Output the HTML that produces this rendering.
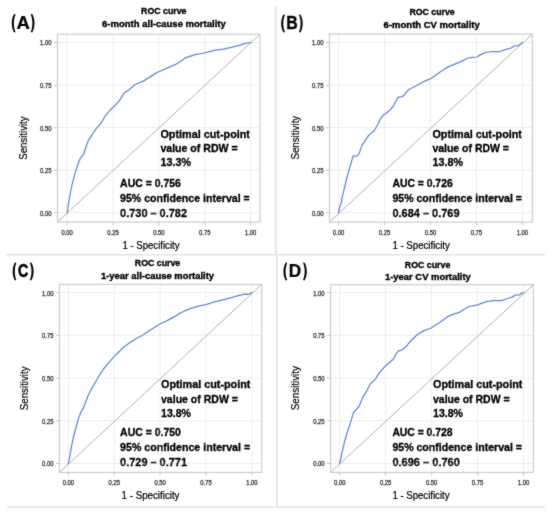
<!DOCTYPE html>
<html><head><meta charset="utf-8"><title>ROC curves</title>
<style>
html,body{margin:0;padding:0;background:#fff;}
body{width:550px;height:514px;overflow:hidden;}
svg{display:block;font-family:"Liberation Sans",sans-serif;}
</style></head><body>
<svg width="550" height="514" viewBox="0 0 550 514">
<defs><filter id="soft" filterUnits="userSpaceOnUse" x="0" y="0" width="550" height="514"><feConvolveMatrix order="3" kernelMatrix="1 2 1 2 22 2 1 2 1" divisor="34" edgeMode="none"/></filter></defs>
<rect x="0" y="0" width="550" height="514" fill="#fff"/>
<g filter="url(#soft)">
<line x1="275.8" y1="6.5" x2="275.8" y2="254.8" stroke="#e4e4e4" stroke-width="1.8"/>
<line x1="276.8" y1="254.8" x2="276.8" y2="507" stroke="#e4e4e4" stroke-width="1.8"/>
<line x1="6.5" y1="254.8" x2="545" y2="254.8" stroke="#e4e4e4" stroke-width="1.6"/>
<line x1="7" y1="507" x2="545" y2="507" stroke="#e4e4e4" stroke-width="1.6"/>
<line x1="67.1" y1="34.2" x2="67.1" y2="222" stroke="#ebebeb" stroke-width="0.9"/>
<line x1="57.5" y1="212.75" x2="260" y2="212.75" stroke="#ebebeb" stroke-width="0.9"/>
<line x1="112.97" y1="34.2" x2="112.97" y2="222" stroke="#ebebeb" stroke-width="0.9"/>
<line x1="57.5" y1="170.19" x2="260" y2="170.19" stroke="#ebebeb" stroke-width="0.9"/>
<line x1="158.85" y1="34.2" x2="158.85" y2="222" stroke="#ebebeb" stroke-width="0.9"/>
<line x1="57.5" y1="127.62" x2="260" y2="127.62" stroke="#ebebeb" stroke-width="0.9"/>
<line x1="204.72" y1="34.2" x2="204.72" y2="222" stroke="#ebebeb" stroke-width="0.9"/>
<line x1="57.5" y1="85.06" x2="260" y2="85.06" stroke="#ebebeb" stroke-width="0.9"/>
<line x1="250.6" y1="34.2" x2="250.6" y2="222" stroke="#ebebeb" stroke-width="0.9"/>
<line x1="57.5" y1="42.5" x2="260" y2="42.5" stroke="#ebebeb" stroke-width="0.9"/>
<line x1="57.5" y1="222" x2="260" y2="34.2" stroke="#9a9a9a" stroke-width="0.8"/>
<polyline points="67.1,212.75 68.5,203.3 69.9,195.4 71.9,185.5 74.9,173.6 77.8,164.6 80.4,158.1 83.4,154.7 86.4,145.8 88.7,139.8 92.7,133.9 96.7,127.9 99.7,125 103,120 105.1,116.2 110.1,110.2 119.1,101.1 124.1,93.1 129.1,89.7 135.2,84.5 143.2,81.1 151.2,76.1 157,72.5 167,68.1 177,63.7 186.1,57.6 195.1,54.6 204.1,53 213.1,50.6 223.1,49.2 231.1,47.4 239.2,45.4 245.2,43.4 250.6,42.5" fill="none" stroke="#5d86d2" stroke-width="1.25" stroke-linejoin="round" stroke-linecap="round"/>
<rect x="57.5" y="34.2" width="202.5" height="187.8" fill="none" stroke="#cdcdcd" stroke-width="1.2"/>
<line x1="67.1" y1="222" x2="67.1" y2="225" stroke="#bcbcbc" stroke-width="0.9"/>
<line x1="54" y1="212.75" x2="57.5" y2="212.75" stroke="#bcbcbc" stroke-width="0.9"/>
<text x="67.1" y="235" text-anchor="middle" font-size="6.5" fill="#2b2b2b" stroke="#2b2b2b" stroke-width="0.25" textLength="11.4" lengthAdjust="spacingAndGlyphs">0.00</text>
<text x="51.5" y="215.65" text-anchor="end" font-size="6.5" fill="#2b2b2b" stroke="#2b2b2b" stroke-width="0.25" textLength="11.4" lengthAdjust="spacingAndGlyphs">0.00</text>
<line x1="112.97" y1="222" x2="112.97" y2="225" stroke="#bcbcbc" stroke-width="0.9"/>
<line x1="54" y1="170.19" x2="57.5" y2="170.19" stroke="#bcbcbc" stroke-width="0.9"/>
<text x="112.97" y="235" text-anchor="middle" font-size="6.5" fill="#2b2b2b" stroke="#2b2b2b" stroke-width="0.25" textLength="11.4" lengthAdjust="spacingAndGlyphs">0.25</text>
<text x="51.5" y="173.09" text-anchor="end" font-size="6.5" fill="#2b2b2b" stroke="#2b2b2b" stroke-width="0.25" textLength="11.4" lengthAdjust="spacingAndGlyphs">0.25</text>
<line x1="158.85" y1="222" x2="158.85" y2="225" stroke="#bcbcbc" stroke-width="0.9"/>
<line x1="54" y1="127.62" x2="57.5" y2="127.62" stroke="#bcbcbc" stroke-width="0.9"/>
<text x="158.85" y="235" text-anchor="middle" font-size="6.5" fill="#2b2b2b" stroke="#2b2b2b" stroke-width="0.25" textLength="11.4" lengthAdjust="spacingAndGlyphs">0.50</text>
<text x="51.5" y="130.53" text-anchor="end" font-size="6.5" fill="#2b2b2b" stroke="#2b2b2b" stroke-width="0.25" textLength="11.4" lengthAdjust="spacingAndGlyphs">0.50</text>
<line x1="204.72" y1="222" x2="204.72" y2="225" stroke="#bcbcbc" stroke-width="0.9"/>
<line x1="54" y1="85.06" x2="57.5" y2="85.06" stroke="#bcbcbc" stroke-width="0.9"/>
<text x="204.72" y="235" text-anchor="middle" font-size="6.5" fill="#2b2b2b" stroke="#2b2b2b" stroke-width="0.25" textLength="11.4" lengthAdjust="spacingAndGlyphs">0.75</text>
<text x="51.5" y="87.96" text-anchor="end" font-size="6.5" fill="#2b2b2b" stroke="#2b2b2b" stroke-width="0.25" textLength="11.4" lengthAdjust="spacingAndGlyphs">0.75</text>
<line x1="250.6" y1="222" x2="250.6" y2="225" stroke="#bcbcbc" stroke-width="0.9"/>
<line x1="54" y1="42.5" x2="57.5" y2="42.5" stroke="#bcbcbc" stroke-width="0.9"/>
<text x="250.6" y="235" text-anchor="middle" font-size="6.5" fill="#2b2b2b" stroke="#2b2b2b" stroke-width="0.25" textLength="11.4" lengthAdjust="spacingAndGlyphs">1.00</text>
<text x="51.5" y="45.4" text-anchor="end" font-size="6.5" fill="#2b2b2b" stroke="#2b2b2b" stroke-width="0.25" textLength="11.4" lengthAdjust="spacingAndGlyphs">1.00</text>
<line x1="338.5" y1="34" x2="338.5" y2="222.1" stroke="#ebebeb" stroke-width="0.9"/>
<line x1="329.5" y1="212.75" x2="532.3" y2="212.75" stroke="#ebebeb" stroke-width="0.9"/>
<line x1="384.48" y1="34" x2="384.48" y2="222.1" stroke="#ebebeb" stroke-width="0.9"/>
<line x1="329.5" y1="170.19" x2="532.3" y2="170.19" stroke="#ebebeb" stroke-width="0.9"/>
<line x1="430.45" y1="34" x2="430.45" y2="222.1" stroke="#ebebeb" stroke-width="0.9"/>
<line x1="329.5" y1="127.62" x2="532.3" y2="127.62" stroke="#ebebeb" stroke-width="0.9"/>
<line x1="476.42" y1="34" x2="476.42" y2="222.1" stroke="#ebebeb" stroke-width="0.9"/>
<line x1="329.5" y1="85.06" x2="532.3" y2="85.06" stroke="#ebebeb" stroke-width="0.9"/>
<line x1="522.4" y1="34" x2="522.4" y2="222.1" stroke="#ebebeb" stroke-width="0.9"/>
<line x1="329.5" y1="42.5" x2="532.3" y2="42.5" stroke="#ebebeb" stroke-width="0.9"/>
<line x1="329.5" y1="222.1" x2="532.3" y2="34" stroke="#9a9a9a" stroke-width="0.8"/>
<polyline points="338.5,212.75 339.9,205.9 341,203.7 342.5,196.1 343.8,190.6 345.3,184.1 347.5,175.4 349.7,167.7 351.9,160.1 353,156.2 356.9,156.2 359.1,153.6 361.7,145.9 366,139.4 369.3,134.4 373.7,131.4 378,124.2 380,119.4 383.3,115.2 386.7,112.7 390,110.2 393.4,106 395.9,101 398.1,97.3 400.9,96.8 403.4,95.9 405.9,92.6 409.3,89.2 415.1,86.2 423.5,81.7 430.2,78.9 435.2,75.5 441.9,70.8 448.6,66.6 453.6,64.6 460.8,61.6 468.1,58 472.5,57.3 476.8,57 481.2,54.4 485.5,52.5 492.8,51.5 500.1,51.5 505.9,49.3 511,48 514.6,45.9 518.3,45.6 521.2,43.5 522.4,42.5" fill="none" stroke="#5d86d2" stroke-width="1.25" stroke-linejoin="round" stroke-linecap="round"/>
<rect x="329.5" y="34" width="202.8" height="188.1" fill="none" stroke="#cdcdcd" stroke-width="1.2"/>
<line x1="338.5" y1="222.1" x2="338.5" y2="225.1" stroke="#bcbcbc" stroke-width="0.9"/>
<line x1="326" y1="212.75" x2="329.5" y2="212.75" stroke="#bcbcbc" stroke-width="0.9"/>
<text x="338.5" y="235.1" text-anchor="middle" font-size="6.5" fill="#2b2b2b" stroke="#2b2b2b" stroke-width="0.25" textLength="11.4" lengthAdjust="spacingAndGlyphs">0.00</text>
<text x="323.5" y="215.65" text-anchor="end" font-size="6.5" fill="#2b2b2b" stroke="#2b2b2b" stroke-width="0.25" textLength="11.4" lengthAdjust="spacingAndGlyphs">0.00</text>
<line x1="384.48" y1="222.1" x2="384.48" y2="225.1" stroke="#bcbcbc" stroke-width="0.9"/>
<line x1="326" y1="170.19" x2="329.5" y2="170.19" stroke="#bcbcbc" stroke-width="0.9"/>
<text x="384.48" y="235.1" text-anchor="middle" font-size="6.5" fill="#2b2b2b" stroke="#2b2b2b" stroke-width="0.25" textLength="11.4" lengthAdjust="spacingAndGlyphs">0.25</text>
<text x="323.5" y="173.09" text-anchor="end" font-size="6.5" fill="#2b2b2b" stroke="#2b2b2b" stroke-width="0.25" textLength="11.4" lengthAdjust="spacingAndGlyphs">0.25</text>
<line x1="430.45" y1="222.1" x2="430.45" y2="225.1" stroke="#bcbcbc" stroke-width="0.9"/>
<line x1="326" y1="127.62" x2="329.5" y2="127.62" stroke="#bcbcbc" stroke-width="0.9"/>
<text x="430.45" y="235.1" text-anchor="middle" font-size="6.5" fill="#2b2b2b" stroke="#2b2b2b" stroke-width="0.25" textLength="11.4" lengthAdjust="spacingAndGlyphs">0.50</text>
<text x="323.5" y="130.53" text-anchor="end" font-size="6.5" fill="#2b2b2b" stroke="#2b2b2b" stroke-width="0.25" textLength="11.4" lengthAdjust="spacingAndGlyphs">0.50</text>
<line x1="476.42" y1="222.1" x2="476.42" y2="225.1" stroke="#bcbcbc" stroke-width="0.9"/>
<line x1="326" y1="85.06" x2="329.5" y2="85.06" stroke="#bcbcbc" stroke-width="0.9"/>
<text x="476.42" y="235.1" text-anchor="middle" font-size="6.5" fill="#2b2b2b" stroke="#2b2b2b" stroke-width="0.25" textLength="11.4" lengthAdjust="spacingAndGlyphs">0.75</text>
<text x="323.5" y="87.96" text-anchor="end" font-size="6.5" fill="#2b2b2b" stroke="#2b2b2b" stroke-width="0.25" textLength="11.4" lengthAdjust="spacingAndGlyphs">0.75</text>
<line x1="522.4" y1="222.1" x2="522.4" y2="225.1" stroke="#bcbcbc" stroke-width="0.9"/>
<line x1="326" y1="42.5" x2="329.5" y2="42.5" stroke="#bcbcbc" stroke-width="0.9"/>
<text x="522.4" y="235.1" text-anchor="middle" font-size="6.5" fill="#2b2b2b" stroke="#2b2b2b" stroke-width="0.25" textLength="11.4" lengthAdjust="spacingAndGlyphs">1.00</text>
<text x="323.5" y="45.4" text-anchor="end" font-size="6.5" fill="#2b2b2b" stroke="#2b2b2b" stroke-width="0.25" textLength="11.4" lengthAdjust="spacingAndGlyphs">1.00</text>
<line x1="68.4" y1="284.4" x2="68.4" y2="472.4" stroke="#ebebeb" stroke-width="0.9"/>
<line x1="59.5" y1="463.5" x2="261.7" y2="463.5" stroke="#ebebeb" stroke-width="0.9"/>
<line x1="114.28" y1="284.4" x2="114.28" y2="472.4" stroke="#ebebeb" stroke-width="0.9"/>
<line x1="59.5" y1="420.77" x2="261.7" y2="420.77" stroke="#ebebeb" stroke-width="0.9"/>
<line x1="160.15" y1="284.4" x2="160.15" y2="472.4" stroke="#ebebeb" stroke-width="0.9"/>
<line x1="59.5" y1="378.05" x2="261.7" y2="378.05" stroke="#ebebeb" stroke-width="0.9"/>
<line x1="206.03" y1="284.4" x2="206.03" y2="472.4" stroke="#ebebeb" stroke-width="0.9"/>
<line x1="59.5" y1="335.33" x2="261.7" y2="335.33" stroke="#ebebeb" stroke-width="0.9"/>
<line x1="251.9" y1="284.4" x2="251.9" y2="472.4" stroke="#ebebeb" stroke-width="0.9"/>
<line x1="59.5" y1="292.6" x2="261.7" y2="292.6" stroke="#ebebeb" stroke-width="0.9"/>
<line x1="59.5" y1="472.4" x2="261.7" y2="284.4" stroke="#9a9a9a" stroke-width="0.8"/>
<polyline points="68.4,463.5 69.9,455.3 71.3,447.4 73.3,437.5 75.9,427.5 78.8,417.6 81.2,411.3 83.8,407.3 85.8,401.7 88.4,394.8 92.7,386.9 97.7,378.3 100,374.3 103.5,369 108,363.3 114.2,356.6 119.5,351.3 124.8,346.3 130.1,342.4 136.3,338.5 142.5,335.3 149.6,330.4 158.4,324.7 167.3,320.6 175,316.4 181.3,312.5 187.7,309.6 195.6,306.9 206.6,304.3 216.1,301.4 222.5,299.8 230.4,297.9 238.3,295.6 244.6,294.1 248.6,294.3 251.9,292.6" fill="none" stroke="#5d86d2" stroke-width="1.25" stroke-linejoin="round" stroke-linecap="round"/>
<rect x="59.5" y="284.4" width="202.2" height="188" fill="none" stroke="#cdcdcd" stroke-width="1.2"/>
<line x1="68.4" y1="472.4" x2="68.4" y2="475.4" stroke="#bcbcbc" stroke-width="0.9"/>
<line x1="56" y1="463.5" x2="59.5" y2="463.5" stroke="#bcbcbc" stroke-width="0.9"/>
<text x="68.4" y="485.4" text-anchor="middle" font-size="6.5" fill="#2b2b2b" stroke="#2b2b2b" stroke-width="0.25" textLength="11.4" lengthAdjust="spacingAndGlyphs">0.00</text>
<text x="53.5" y="466.4" text-anchor="end" font-size="6.5" fill="#2b2b2b" stroke="#2b2b2b" stroke-width="0.25" textLength="11.4" lengthAdjust="spacingAndGlyphs">0.00</text>
<line x1="114.28" y1="472.4" x2="114.28" y2="475.4" stroke="#bcbcbc" stroke-width="0.9"/>
<line x1="56" y1="420.77" x2="59.5" y2="420.77" stroke="#bcbcbc" stroke-width="0.9"/>
<text x="114.28" y="485.4" text-anchor="middle" font-size="6.5" fill="#2b2b2b" stroke="#2b2b2b" stroke-width="0.25" textLength="11.4" lengthAdjust="spacingAndGlyphs">0.25</text>
<text x="53.5" y="423.67" text-anchor="end" font-size="6.5" fill="#2b2b2b" stroke="#2b2b2b" stroke-width="0.25" textLength="11.4" lengthAdjust="spacingAndGlyphs">0.25</text>
<line x1="160.15" y1="472.4" x2="160.15" y2="475.4" stroke="#bcbcbc" stroke-width="0.9"/>
<line x1="56" y1="378.05" x2="59.5" y2="378.05" stroke="#bcbcbc" stroke-width="0.9"/>
<text x="160.15" y="485.4" text-anchor="middle" font-size="6.5" fill="#2b2b2b" stroke="#2b2b2b" stroke-width="0.25" textLength="11.4" lengthAdjust="spacingAndGlyphs">0.50</text>
<text x="53.5" y="380.95" text-anchor="end" font-size="6.5" fill="#2b2b2b" stroke="#2b2b2b" stroke-width="0.25" textLength="11.4" lengthAdjust="spacingAndGlyphs">0.50</text>
<line x1="206.03" y1="472.4" x2="206.03" y2="475.4" stroke="#bcbcbc" stroke-width="0.9"/>
<line x1="56" y1="335.33" x2="59.5" y2="335.33" stroke="#bcbcbc" stroke-width="0.9"/>
<text x="206.03" y="485.4" text-anchor="middle" font-size="6.5" fill="#2b2b2b" stroke="#2b2b2b" stroke-width="0.25" textLength="11.4" lengthAdjust="spacingAndGlyphs">0.75</text>
<text x="53.5" y="338.23" text-anchor="end" font-size="6.5" fill="#2b2b2b" stroke="#2b2b2b" stroke-width="0.25" textLength="11.4" lengthAdjust="spacingAndGlyphs">0.75</text>
<line x1="251.9" y1="472.4" x2="251.9" y2="475.4" stroke="#bcbcbc" stroke-width="0.9"/>
<line x1="56" y1="292.6" x2="59.5" y2="292.6" stroke="#bcbcbc" stroke-width="0.9"/>
<text x="251.9" y="485.4" text-anchor="middle" font-size="6.5" fill="#2b2b2b" stroke="#2b2b2b" stroke-width="0.25" textLength="11.4" lengthAdjust="spacingAndGlyphs">1.00</text>
<text x="53.5" y="295.5" text-anchor="end" font-size="6.5" fill="#2b2b2b" stroke="#2b2b2b" stroke-width="0.25" textLength="11.4" lengthAdjust="spacingAndGlyphs">1.00</text>
<line x1="339.7" y1="284.7" x2="339.7" y2="472.4" stroke="#ebebeb" stroke-width="0.9"/>
<line x1="330.6" y1="463.5" x2="533.4" y2="463.5" stroke="#ebebeb" stroke-width="0.9"/>
<line x1="385.65" y1="284.7" x2="385.65" y2="472.4" stroke="#ebebeb" stroke-width="0.9"/>
<line x1="330.6" y1="420.77" x2="533.4" y2="420.77" stroke="#ebebeb" stroke-width="0.9"/>
<line x1="431.6" y1="284.7" x2="431.6" y2="472.4" stroke="#ebebeb" stroke-width="0.9"/>
<line x1="330.6" y1="378.05" x2="533.4" y2="378.05" stroke="#ebebeb" stroke-width="0.9"/>
<line x1="477.55" y1="284.7" x2="477.55" y2="472.4" stroke="#ebebeb" stroke-width="0.9"/>
<line x1="330.6" y1="335.33" x2="533.4" y2="335.33" stroke="#ebebeb" stroke-width="0.9"/>
<line x1="523.5" y1="284.7" x2="523.5" y2="472.4" stroke="#ebebeb" stroke-width="0.9"/>
<line x1="330.6" y1="292.6" x2="533.4" y2="292.6" stroke="#ebebeb" stroke-width="0.9"/>
<line x1="330.6" y1="472.4" x2="533.4" y2="284.7" stroke="#9a9a9a" stroke-width="0.8"/>
<polyline points="339.7,463.5 340.9,458.1 342,452.7 343.5,446.1 344.8,440.7 347.4,432 350.7,422.1 353.5,412.3 356.2,409.7 359.4,405.8 362.7,397.1 366,392.3 370.3,384 374.7,380.1 379.1,373.1 385,366.3 389.2,362.7 393.4,359 395.9,354.3 398.4,350.9 401.7,350.1 405.1,347.6 410.1,341.7 416.8,335 423.5,330.9 431,328 438.6,323.3 448.6,316.1 453.6,314.1 459.4,312.4 463.7,309.5 468.8,306.5 476.8,305.1 485.5,301.9 492.8,300.7 501.5,300.7 507.4,298.5 511.7,297.1 515.4,295.1 519,294.9 523.5,292.5" fill="none" stroke="#5d86d2" stroke-width="1.25" stroke-linejoin="round" stroke-linecap="round"/>
<rect x="330.6" y="284.7" width="202.8" height="187.7" fill="none" stroke="#cdcdcd" stroke-width="1.2"/>
<line x1="339.7" y1="472.4" x2="339.7" y2="475.4" stroke="#bcbcbc" stroke-width="0.9"/>
<line x1="327.1" y1="463.5" x2="330.6" y2="463.5" stroke="#bcbcbc" stroke-width="0.9"/>
<text x="339.7" y="485.4" text-anchor="middle" font-size="6.5" fill="#2b2b2b" stroke="#2b2b2b" stroke-width="0.25" textLength="11.4" lengthAdjust="spacingAndGlyphs">0.00</text>
<text x="324.6" y="466.4" text-anchor="end" font-size="6.5" fill="#2b2b2b" stroke="#2b2b2b" stroke-width="0.25" textLength="11.4" lengthAdjust="spacingAndGlyphs">0.00</text>
<line x1="385.65" y1="472.4" x2="385.65" y2="475.4" stroke="#bcbcbc" stroke-width="0.9"/>
<line x1="327.1" y1="420.77" x2="330.6" y2="420.77" stroke="#bcbcbc" stroke-width="0.9"/>
<text x="385.65" y="485.4" text-anchor="middle" font-size="6.5" fill="#2b2b2b" stroke="#2b2b2b" stroke-width="0.25" textLength="11.4" lengthAdjust="spacingAndGlyphs">0.25</text>
<text x="324.6" y="423.67" text-anchor="end" font-size="6.5" fill="#2b2b2b" stroke="#2b2b2b" stroke-width="0.25" textLength="11.4" lengthAdjust="spacingAndGlyphs">0.25</text>
<line x1="431.6" y1="472.4" x2="431.6" y2="475.4" stroke="#bcbcbc" stroke-width="0.9"/>
<line x1="327.1" y1="378.05" x2="330.6" y2="378.05" stroke="#bcbcbc" stroke-width="0.9"/>
<text x="431.6" y="485.4" text-anchor="middle" font-size="6.5" fill="#2b2b2b" stroke="#2b2b2b" stroke-width="0.25" textLength="11.4" lengthAdjust="spacingAndGlyphs">0.50</text>
<text x="324.6" y="380.95" text-anchor="end" font-size="6.5" fill="#2b2b2b" stroke="#2b2b2b" stroke-width="0.25" textLength="11.4" lengthAdjust="spacingAndGlyphs">0.50</text>
<line x1="477.55" y1="472.4" x2="477.55" y2="475.4" stroke="#bcbcbc" stroke-width="0.9"/>
<line x1="327.1" y1="335.33" x2="330.6" y2="335.33" stroke="#bcbcbc" stroke-width="0.9"/>
<text x="477.55" y="485.4" text-anchor="middle" font-size="6.5" fill="#2b2b2b" stroke="#2b2b2b" stroke-width="0.25" textLength="11.4" lengthAdjust="spacingAndGlyphs">0.75</text>
<text x="324.6" y="338.23" text-anchor="end" font-size="6.5" fill="#2b2b2b" stroke="#2b2b2b" stroke-width="0.25" textLength="11.4" lengthAdjust="spacingAndGlyphs">0.75</text>
<line x1="523.5" y1="472.4" x2="523.5" y2="475.4" stroke="#bcbcbc" stroke-width="0.9"/>
<line x1="327.1" y1="292.6" x2="330.6" y2="292.6" stroke="#bcbcbc" stroke-width="0.9"/>
<text x="523.5" y="485.4" text-anchor="middle" font-size="6.5" fill="#2b2b2b" stroke="#2b2b2b" stroke-width="0.25" textLength="11.4" lengthAdjust="spacingAndGlyphs">1.00</text>
<text x="324.6" y="295.5" text-anchor="end" font-size="6.5" fill="#2b2b2b" stroke="#2b2b2b" stroke-width="0.25" textLength="11.4" lengthAdjust="spacingAndGlyphs">1.00</text>
<text x="141.1" y="14.3" font-size="9.8" font-weight="bold" fill="#000" stroke="#000" stroke-width="0.38" textLength="45.4" lengthAdjust="spacingAndGlyphs">ROC curve</text>
<text x="102" y="27.2" font-size="9.8" font-weight="bold" fill="#000" stroke="#000" stroke-width="0.38" textLength="123.8" lengthAdjust="spacingAndGlyphs">6-month all-cause mortality</text>
<text x="160.4" y="137.6" font-size="11.3" font-weight="bold" fill="#000" stroke="#000" stroke-width="0.32" textLength="89.6" lengthAdjust="spacingAndGlyphs">Optimal cut-point</text>
<text x="160.4" y="152" font-size="11.3" font-weight="bold" fill="#000" stroke="#000" stroke-width="0.32" textLength="77.2" lengthAdjust="spacingAndGlyphs">value of RDW =</text>
<text x="160.4" y="166.4" font-size="11.3" font-weight="bold" fill="#000" stroke="#000" stroke-width="0.32" textLength="30.6" lengthAdjust="spacingAndGlyphs">13.3%</text>
<text x="120.1" y="187.3" font-size="11.3" font-weight="bold" fill="#000" stroke="#000" stroke-width="0.32" textLength="60.8" lengthAdjust="spacingAndGlyphs">AUC = 0.756</text>
<text x="120.1" y="202.2" font-size="11.3" font-weight="bold" fill="#000" stroke="#000" stroke-width="0.32" textLength="129.7" lengthAdjust="spacingAndGlyphs">95% confidence interval =</text>
<text x="120.1" y="217" font-size="11.3" font-weight="bold" fill="#000" stroke="#000" stroke-width="0.32" textLength="66.9" lengthAdjust="spacingAndGlyphs">0.730 – 0.782</text>
<text x="122.4" y="248.9" font-size="10.0" font-weight="normal" fill="#000" stroke="#000" stroke-width="0.22" textLength="57.1" lengthAdjust="spacingAndGlyphs">1 - Specificity</text>
<text x="409.4" y="14.6" font-size="9.8" font-weight="bold" fill="#000" stroke="#000" stroke-width="0.38" textLength="45.3" lengthAdjust="spacingAndGlyphs">ROC curve</text>
<text x="383.6" y="27.5" font-size="9.8" font-weight="bold" fill="#000" stroke="#000" stroke-width="0.38" textLength="96.2" lengthAdjust="spacingAndGlyphs">6-month CV mortality</text>
<text x="432.4" y="137.6" font-size="11.3" font-weight="bold" fill="#000" stroke="#000" stroke-width="0.32" textLength="89.6" lengthAdjust="spacingAndGlyphs">Optimal cut-point</text>
<text x="432.4" y="152" font-size="11.3" font-weight="bold" fill="#000" stroke="#000" stroke-width="0.32" textLength="76.6" lengthAdjust="spacingAndGlyphs">value of RDW =</text>
<text x="432.4" y="166.4" font-size="11.3" font-weight="bold" fill="#000" stroke="#000" stroke-width="0.32" textLength="30.6" lengthAdjust="spacingAndGlyphs">13.8%</text>
<text x="392.4" y="187.3" font-size="11.3" font-weight="bold" fill="#000" stroke="#000" stroke-width="0.32" textLength="60.3" lengthAdjust="spacingAndGlyphs">AUC = 0.726</text>
<text x="392.4" y="202.2" font-size="11.3" font-weight="bold" fill="#000" stroke="#000" stroke-width="0.32" textLength="129.6" lengthAdjust="spacingAndGlyphs">95% confidence interval =</text>
<text x="392.4" y="216.8" font-size="11.3" font-weight="bold" fill="#000" stroke="#000" stroke-width="0.32" textLength="67.1" lengthAdjust="spacingAndGlyphs">0.684 – 0.769</text>
<text x="392.4" y="248.7" font-size="10.0" font-weight="normal" fill="#000" stroke="#000" stroke-width="0.22" textLength="57.4" lengthAdjust="spacingAndGlyphs">1 - Specificity</text>
<text x="134.8" y="265.7" font-size="9.8" font-weight="bold" fill="#000" stroke="#000" stroke-width="0.38" textLength="45.4" lengthAdjust="spacingAndGlyphs">ROC curve</text>
<text x="100.9" y="278.6" font-size="9.8" font-weight="bold" fill="#000" stroke="#000" stroke-width="0.38" textLength="113.2" lengthAdjust="spacingAndGlyphs">1-year all-cause mortality</text>
<text x="161" y="388.4" font-size="11.3" font-weight="bold" fill="#000" stroke="#000" stroke-width="0.32" textLength="89.4" lengthAdjust="spacingAndGlyphs">Optimal cut-point</text>
<text x="161" y="402.6" font-size="11.3" font-weight="bold" fill="#000" stroke="#000" stroke-width="0.32" textLength="77" lengthAdjust="spacingAndGlyphs">value of RDW =</text>
<text x="161" y="417.2" font-size="11.3" font-weight="bold" fill="#000" stroke="#000" stroke-width="0.32" textLength="30" lengthAdjust="spacingAndGlyphs">13.8%</text>
<text x="120.1" y="436.3" font-size="11.3" font-weight="bold" fill="#000" stroke="#000" stroke-width="0.32" textLength="60.8" lengthAdjust="spacingAndGlyphs">AUC = 0.750</text>
<text x="120.1" y="451.2" font-size="11.3" font-weight="bold" fill="#000" stroke="#000" stroke-width="0.32" textLength="130" lengthAdjust="spacingAndGlyphs">95% confidence interval =</text>
<text x="120.1" y="466" font-size="11.3" font-weight="bold" fill="#000" stroke="#000" stroke-width="0.32" textLength="66.9" lengthAdjust="spacingAndGlyphs">0.729 – 0.771</text>
<text x="121.6" y="498.8" font-size="10.0" font-weight="normal" fill="#000" stroke="#000" stroke-width="0.22" textLength="57.9" lengthAdjust="spacingAndGlyphs">1 - Specificity</text>
<text x="404.8" y="267.5" font-size="9.8" font-weight="bold" fill="#000" stroke="#000" stroke-width="0.38" textLength="45.5" lengthAdjust="spacingAndGlyphs">ROC curve</text>
<text x="385" y="280.3" font-size="9.8" font-weight="bold" fill="#000" stroke="#000" stroke-width="0.38" textLength="85.8" lengthAdjust="spacingAndGlyphs">1-year CV mortality</text>
<text x="433" y="388.4" font-size="11.3" font-weight="bold" fill="#000" stroke="#000" stroke-width="0.32" textLength="89.4" lengthAdjust="spacingAndGlyphs">Optimal cut-point</text>
<text x="433" y="402.6" font-size="11.3" font-weight="bold" fill="#000" stroke="#000" stroke-width="0.32" textLength="76.6" lengthAdjust="spacingAndGlyphs">value of RDW =</text>
<text x="433" y="417.4" font-size="11.3" font-weight="bold" fill="#000" stroke="#000" stroke-width="0.32" textLength="30" lengthAdjust="spacingAndGlyphs">13.8%</text>
<text x="392.4" y="436.3" font-size="11.3" font-weight="bold" fill="#000" stroke="#000" stroke-width="0.32" textLength="60.1" lengthAdjust="spacingAndGlyphs">AUC = 0.728</text>
<text x="392.4" y="451.2" font-size="11.3" font-weight="bold" fill="#000" stroke="#000" stroke-width="0.32" textLength="129.6" lengthAdjust="spacingAndGlyphs">95% confidence interval =</text>
<text x="392.4" y="465.8" font-size="11.3" font-weight="bold" fill="#000" stroke="#000" stroke-width="0.32" textLength="67.5" lengthAdjust="spacingAndGlyphs">0.696 – 0.760</text>
<text x="392.4" y="498.8" font-size="10.0" font-weight="normal" fill="#000" stroke="#000" stroke-width="0.22" textLength="57.1" lengthAdjust="spacingAndGlyphs">1 - Specificity</text>
<text x="16.5" y="28.6" font-size="18.6" font-weight="bold" fill="#000" stroke="#000" stroke-width="0.2" textLength="13.4" lengthAdjust="spacingAndGlyphs">A</text>
<path d="M14.10,14.10 C11.03,19.22 11.03,27.28 14.10,32.40 L15.60,32.10 C13.33,27.28 13.33,19.22 15.60,14.40 Z" fill="#000"/>
<path d="M32.20,14.10 C35.27,19.22 35.27,27.28 32.20,32.40 L30.70,32.10 C32.97,27.28 32.97,19.22 30.70,14.40 Z" fill="#000"/>
<text x="286.3" y="28.6" font-size="18.6" font-weight="bold" fill="#000" stroke="#000" stroke-width="0.35" textLength="11.5" lengthAdjust="spacingAndGlyphs">B</text>
<path d="M283.50,14.40 C280.43,19.44 280.43,27.36 283.50,32.40 L285.00,32.10 C282.73,27.36 282.73,19.44 285.00,14.70 Z" fill="#000"/>
<path d="M300.40,14.40 C303.47,19.44 303.47,27.36 300.40,32.40 L298.90,32.10 C301.17,27.36 301.17,19.44 298.90,14.70 Z" fill="#000"/>
<text x="18.1" y="276.7" font-size="18.5" font-weight="bold" fill="#000" stroke="#000" stroke-width="0.6" textLength="10.2" lengthAdjust="spacingAndGlyphs">C</text>
<path d="M14.90,262.40 C11.97,267.44 11.97,275.36 14.90,280.40 L16.40,280.10 C14.27,275.36 14.27,267.44 16.40,262.70 Z" fill="#000"/>
<path d="M31.30,262.40 C34.37,267.44 34.37,275.36 31.30,280.40 L29.80,280.10 C32.07,275.36 32.07,267.44 29.80,262.70 Z" fill="#000"/>
<text x="288.75" y="276.6" font-size="18.6" font-weight="bold" fill="#000" stroke="#000" stroke-width="0.2" textLength="12.37" lengthAdjust="spacingAndGlyphs">D</text>
<path d="M285.80,262.40 C282.73,267.44 282.73,275.36 285.80,280.40 L287.30,280.10 C285.03,275.36 285.03,267.44 287.30,262.70 Z" fill="#000"/>
<path d="M304.50,262.40 C307.57,267.44 307.57,275.36 304.50,280.40 L303.00,280.10 C305.27,275.36 305.27,267.44 303.00,262.70 Z" fill="#000"/>
<text transform="translate(27,159.8) rotate(-90)" x="0" y="0" font-size="10.0" fill="#000" stroke="#000" stroke-width="0.2" textLength="43.4" lengthAdjust="spacingAndGlyphs">Sensitivity</text>
<text transform="translate(298.7,159.6) rotate(-90)" x="0" y="0" font-size="10.0" fill="#000" stroke="#000" stroke-width="0.2" textLength="43.8" lengthAdjust="spacingAndGlyphs">Sensitivity</text>
<text transform="translate(27.5,410.2) rotate(-90)" x="0" y="0" font-size="10.0" fill="#000" stroke="#000" stroke-width="0.2" textLength="43.8" lengthAdjust="spacingAndGlyphs">Sensitivity</text>
<text transform="translate(298.9,410.2) rotate(-90)" x="0" y="0" font-size="10.0" fill="#000" stroke="#000" stroke-width="0.2" textLength="44.1" lengthAdjust="spacingAndGlyphs">Sensitivity</text>
</g>
</svg>
</body></html>
